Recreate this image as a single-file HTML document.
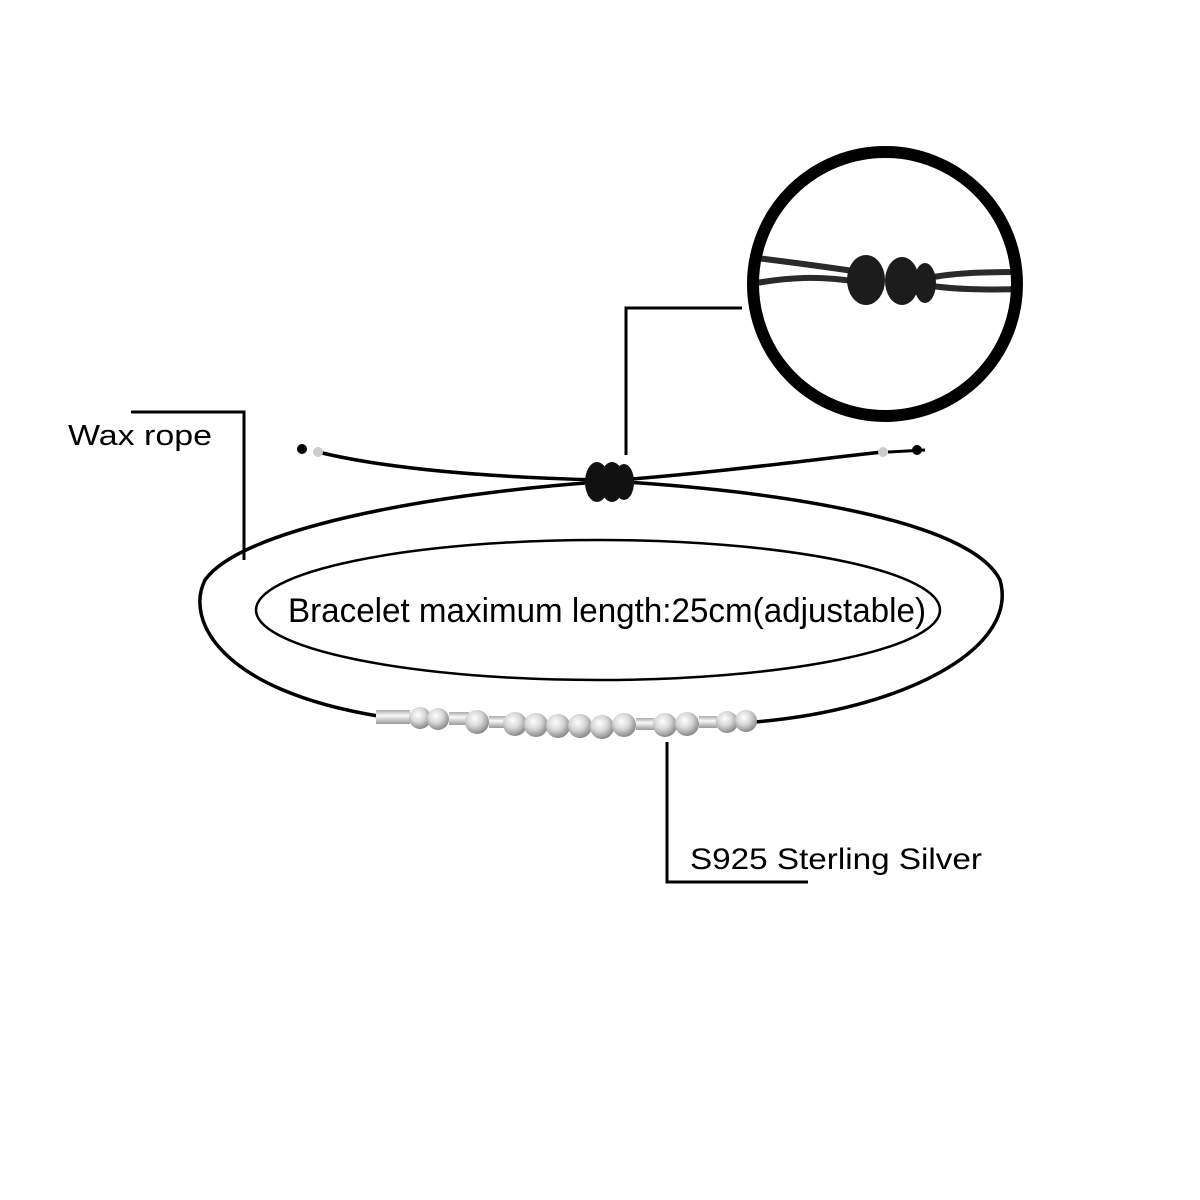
<!DOCTYPE html>
<html><head><meta charset="utf-8"><style>
html,body{margin:0;padding:0;background:#fff;width:1200px;height:1200px;overflow:hidden}
svg{display:block}
text{font-family:"Liberation Sans",sans-serif;fill:#000}
</style></head><body>
<svg width="1200" height="1200" viewBox="0 0 1200 1200">
<defs>
<radialGradient id="b" cx="40%" cy="35%" r="65%">
<stop offset="0" stop-color="#fff"/><stop offset="0.5" stop-color="#d8d8d8"/><stop offset="1" stop-color="#8a8a8a"/>
</radialGradient>
<linearGradient id="t" x1="0" y1="0" x2="0" y2="1">
<stop offset="0" stop-color="#aaa"/><stop offset="0.4" stop-color="#fafafa"/><stop offset="1" stop-color="#999"/>
</linearGradient>
<clipPath id="c"><circle cx="885" cy="284" r="130"/></clipPath>
</defs>
<rect width="1200" height="1200" fill="#fff"/>
<polyline points="131,412 244,412 244,560" fill="none" stroke="#000" stroke-width="3"/>
<polyline points="626,455 626,308 742,308" fill="none" stroke="#000" stroke-width="3"/>
<polyline points="667,742 667,882 808,882" fill="none" stroke="#000" stroke-width="3"/>
<g clip-path="url(#c)">
<path d="M740,256 C790,262 820,266 860,272" fill="none" stroke="#2a2a2a" stroke-width="6"/>
<path d="M740,286 C790,276 820,276 860,282" fill="none" stroke="#2a2a2a" stroke-width="6"/>
<path d="M920,280 C950,272 990,272 1030,272" fill="none" stroke="#2a2a2a" stroke-width="6"/>
<path d="M920,284 C950,290 990,290 1030,289" fill="none" stroke="#2a2a2a" stroke-width="6"/>
<ellipse cx="866" cy="280" rx="19" ry="25" fill="#1c1c1c"/>
<ellipse cx="902" cy="281" rx="17" ry="24" fill="#1c1c1c"/>
<ellipse cx="925" cy="283" rx="11" ry="20" fill="#1c1c1c"/>
</g>
<circle cx="885" cy="284" r="132" fill="none" stroke="#000" stroke-width="12"/>
<path d="M318,452 C400,472 520,478 600,480" fill="none" stroke="#000" stroke-width="3.5"/>
<path d="M620,480 C720,472 810,460 882,452" fill="none" stroke="#000" stroke-width="3.5"/>
<path d="M598,482 C420,495 240,530 205,580 C185,620 220,690 378,716" fill="none" stroke="#000" stroke-width="3.5"/>
<path d="M625,482 C780,492 970,520 1000,580 C1020,650 900,710 755,722" fill="none" stroke="#000" stroke-width="3.5"/>
<circle cx="302" cy="449" r="5" fill="#000"/><circle cx="318" cy="452" r="5" fill="#ccc"/>
<path d="M888,452 L925,450" stroke="#000" stroke-width="3"/><circle cx="917" cy="450" r="5" fill="#000"/><circle cx="883" cy="452" r="5" fill="#ccc"/>
<ellipse cx="597" cy="482" rx="12" ry="20" fill="#111"/>
<ellipse cx="612" cy="482" rx="12" ry="20" fill="#111"/>
<ellipse cx="624" cy="482" rx="10" ry="18" fill="#111"/>
<g>
<rect x="376" y="710" width="34" height="14" fill="url(#t)"/>
<circle cx="420" cy="718" r="11" fill="url(#b)"/>
<circle cx="438" cy="719" r="11" fill="url(#b)"/>
<rect x="449" y="712" width="20" height="13" fill="url(#t)"/>
<circle cx="477" cy="722" r="12" fill="url(#b)"/>
<rect x="489" y="716" width="18" height="12" fill="url(#t)"/>
<circle cx="515" cy="724" r="12" fill="url(#b)"/>
<circle cx="536" cy="725" r="12" fill="url(#b)"/>
<circle cx="558" cy="726" r="12" fill="url(#b)"/>
<circle cx="580" cy="726" r="12" fill="url(#b)"/>
<circle cx="602" cy="727" r="12" fill="url(#b)"/>
<circle cx="624" cy="725" r="12" fill="url(#b)"/>
<rect x="636" y="718" width="18" height="12" fill="url(#t)"/>
<circle cx="665" cy="725" r="12" fill="url(#b)"/>
<circle cx="687" cy="724" r="12" fill="url(#b)"/>
<rect x="699" y="716" width="18" height="12" fill="url(#t)"/>
<circle cx="727" cy="722" r="11" fill="url(#b)"/>
<circle cx="746" cy="721" r="11" fill="url(#b)"/>
</g>
<ellipse cx="598" cy="610" rx="342" ry="70" fill="none" stroke="#000" stroke-width="2.5"/>
<text x="288" y="622" font-size="34" textLength="638" lengthAdjust="spacingAndGlyphs">Bracelet maximum length:25cm(adjustable)</text>
<text x="68" y="445" font-size="29" textLength="144" lengthAdjust="spacingAndGlyphs">Wax rope</text>
<text x="690" y="869" font-size="30" textLength="292" lengthAdjust="spacingAndGlyphs">S925 Sterling Silver</text>
</svg>
</body></html>
